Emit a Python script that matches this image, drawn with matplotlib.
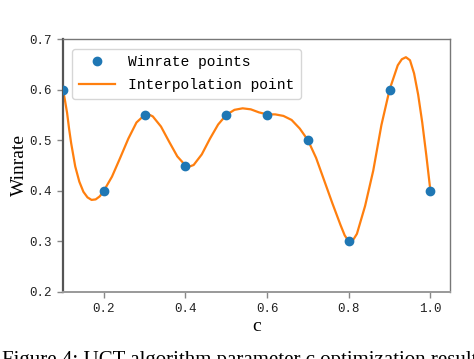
import matplotlib
matplotlib.use("Agg")
import matplotlib.pyplot as plt

# Winrate points
c_points = [0.1, 0.2, 0.3, 0.4, 0.5, 0.6, 0.7, 0.8, 0.9, 1.0]
winrate_points = [0.60, 0.40, 0.55, 0.45, 0.55, 0.55, 0.50, 0.30, 0.60, 0.40]

# Interpolation curve
c_curve = [0.100, 0.105, 0.110, 0.115, 0.120, 0.130, 0.140, 0.150, 0.160, 0.170, 0.180, 0.190,
           0.200, 0.220, 0.240, 0.260, 0.280, 0.300, 0.310, 0.320, 0.340, 0.360, 0.380,
           0.400, 0.410, 0.420, 0.440, 0.460, 0.480, 0.500, 0.520, 0.540, 0.560, 0.580,
           0.600, 0.620, 0.640, 0.660, 0.680, 0.700, 0.720, 0.740, 0.760, 0.780, 0.790,
           0.800, 0.810, 0.820, 0.840, 0.860, 0.880, 0.900, 0.920, 0.930, 0.940, 0.950,
           0.960, 0.970, 0.980, 0.990, 1.000]
winrate_curve = [0.600, 0.578, 0.554, 0.522, 0.494, 0.448, 0.418, 0.398, 0.387, 0.382, 0.383, 0.389,
                 0.400, 0.428, 0.465, 0.503, 0.535, 0.550, 0.551, 0.547, 0.527, 0.497, 0.468,
                 0.450, 0.448, 0.451, 0.472, 0.503, 0.531, 0.550, 0.560, 0.563, 0.561, 0.555,
                 0.551, 0.551, 0.548, 0.540, 0.523, 0.500, 0.465, 0.420, 0.375, 0.332, 0.312,
                 0.300, 0.302, 0.315, 0.370, 0.440, 0.530, 0.600, 0.648, 0.660, 0.664, 0.658,
                 0.632, 0.590, 0.535, 0.470, 0.400]

x_ticks = [0.2, 0.4, 0.6, 0.8, 1.0]
x_ticklabels = ["0.2", "0.4", "0.6", "0.8", "1.0"]
y_ticks = [0.2, 0.3, 0.4, 0.5, 0.6, 0.7]
y_ticklabels = ["0.2", "0.3", "0.4", "0.5", "0.6", "0.7"]

mono = "Liberation Mono"
serif = "Liberation Serif"

fig = plt.figure(figsize=(4.74, 3.59), dpi=100)
ax = fig.add_axes([63/474, 1 - 292/359, (450 - 63)/474, (292 - 39)/359])

ax.plot(c_points, winrate_points, "o", color="#1f77b4", markersize=6, label="Winrate points", zorder=3)
ax.plot(c_curve, winrate_curve, "-", color="#ff7f0e", linewidth=1.6, label="Interpolation point", zorder=2)

ax.set_xlim(0.1, 1.048)
ax.set_ylim(0.2, 0.7)
ax.set_xticks(x_ticks)
ax.set_xticklabels(x_ticklabels, fontfamily=mono, fontsize=9, color="#222222")
ax.set_yticks(y_ticks)
ax.set_yticklabels(y_ticklabels, fontfamily=mono, fontsize=9, color="#222222")
ax.tick_params(axis="both", direction="out", length=4, width=1, color="#888888", pad=4)

for side in ["top", "right"]:
    ax.spines[side].set_color("#777777")
    ax.spines[side].set_linewidth(1.0)
ax.spines["left"].set_color("#555555")
ax.spines["left"].set_linewidth(1.6)
ax.spines["bottom"].set_color("#999999")
ax.spines["bottom"].set_linewidth(1.4)

ax.set_xlabel("c", fontfamily=serif, fontsize=14, labelpad=2)
ax.set_ylabel("Winrate", fontfamily=serif, fontsize=14, labelpad=1)

leg = ax.legend(loc="upper left", prop={"family": mono, "size": 10.5}, frameon=True,
                fancybox=True, borderpad=0.45, handlelength=2.5, handletextpad=0.9,
                labelspacing=0.6, bbox_to_anchor=(0.005, 0.99))
leg.get_frame().set_edgecolor("#cccccc")

fig.text(0.004, 1 - 351/359, "Figure 4: UCT algorithm parameter c optimization results",
         fontfamily=serif, fontsize=15, va="top", ha="left")

fig.savefig("out.png", dpi=100)
